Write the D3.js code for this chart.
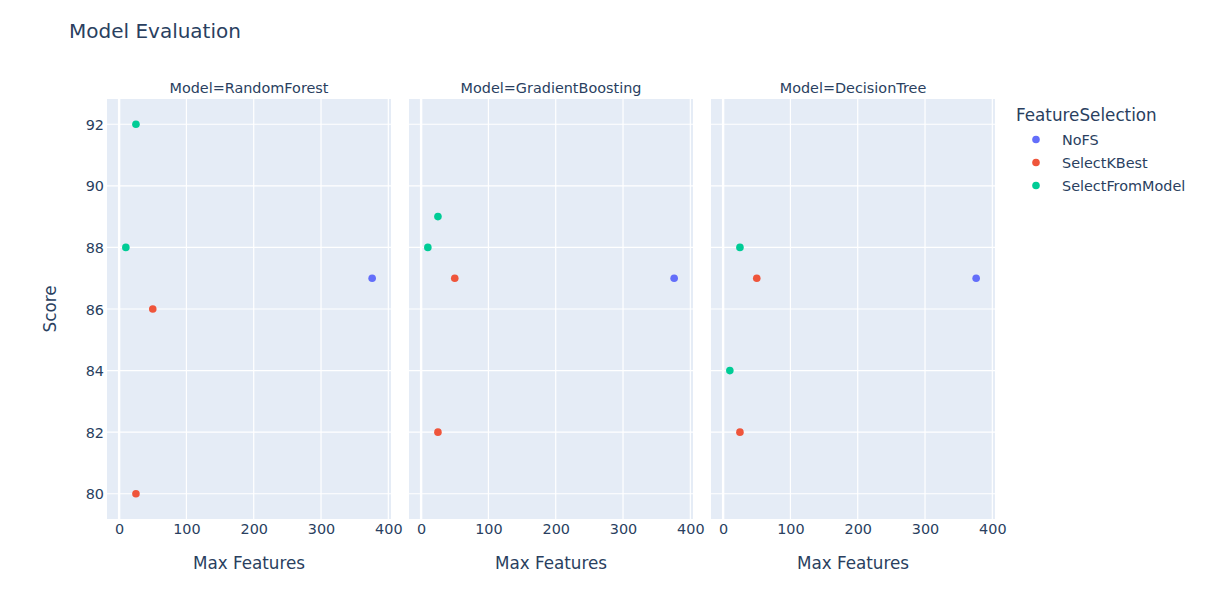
<!DOCTYPE html>
<html>
<head>
<meta charset="utf-8">
<script src="https://cdn.jsdelivr.net/npm/d3@7"></script>
<style>
  body { margin: 0; background: #fff; }
  text { font-family: "DejaVu Sans", Verdana, sans-serif; fill: #2a3f5f; }
</style>
</head>
<body>
<svg id="chart" width="1213" height="600"></svg>
<script>
// facet / legend categories
const models = ["RandomForest", "GradientBoosting", "DecisionTree"];
const methods = ["NoFS", "SelectKBest", "SelectFromModel"];
const colors = ["#636efa", "#EF553B", "#00cc96"];

// one entry per point
const pointModel = ["RandomForest", "RandomForest", "RandomForest", "RandomForest", "RandomForest",
  "GradientBoosting", "GradientBoosting", "GradientBoosting", "GradientBoosting", "GradientBoosting",
  "DecisionTree", "DecisionTree", "DecisionTree", "DecisionTree", "DecisionTree"];
const pointMethod = ["NoFS", "SelectKBest", "SelectKBest", "SelectFromModel", "SelectFromModel",
  "NoFS", "SelectKBest", "SelectKBest", "SelectFromModel", "SelectFromModel",
  "NoFS", "SelectKBest", "SelectKBest", "SelectFromModel", "SelectFromModel"];
const maxFeatures = [376, 50, 25, 25, 10, 376, 50, 25, 25, 10, 376, 50, 25, 25, 10];
const scores = [87, 86, 80, 92, 88, 87, 87, 82, 89, 88, 87, 87, 82, 88, 84];

const xTicks = [0, 100, 200, 300, 400];
const yTicks = [80, 82, 84, 86, 88, 90, 92];

const svg = d3.select("#chart");
const plot = {left: 107, right: 995, top: 99, bottom: 519, gap: 18};
const panelW = (plot.right - plot.left - 2 * plot.gap) / 3;

const y = d3.scaleLinear().domain([79.18, 92.82]).range([plot.bottom, plot.top]);
const color = d3.scaleOrdinal().domain(methods).range(colors);

const points = maxFeatures.map((v, i) => ({model: pointModel[i], method: pointMethod[i], x: v, y: scores[i]}));

svg.append("text")
    .attr("x", 69).attr("y", 38)
    .style("font-size", "20px")
    .text("Model Evaluation");

models.forEach((m, k) => {
  const x0 = plot.left + k * (panelW + plot.gap);
  const x = d3.scaleLinear().domain([-18, 404]).range([x0, x0 + panelW]);
  const g = svg.append("g");

  g.append("rect")
      .attr("x", x0).attr("y", plot.top)
      .attr("width", panelW).attr("height", plot.bottom - plot.top)
      .attr("fill", "#E5ECF6");

  // grid lines
  g.selectAll(".ygrid").data(yTicks).enter().append("line")
      .attr("x1", x0).attr("x2", x0 + panelW)
      .attr("y1", d => y(d)).attr("y2", d => y(d))
      .attr("stroke", "#fff").attr("stroke-width", 1.2);
  g.selectAll(".xgrid").data(xTicks).enter().append("line")
      .attr("x1", d => x(d)).attr("x2", d => x(d))
      .attr("y1", plot.top).attr("y2", plot.bottom)
      .attr("stroke", "#fff").attr("stroke-width", d => d === 0 ? 2.4 : 1.2);

  // x axis tick labels
  const xAxis = g.append("g")
      .attr("transform", `translate(0,${plot.bottom})`)
      .call(d3.axisBottom(x).tickValues(xTicks).tickSize(0).tickPadding(5));
  xAxis.select(".domain").remove();
  xAxis.selectAll("text").style("font-size", "14.4px").attr("fill", "#2a3f5f").attr("font-family", null);

  if (k === 0) {
    const yAxis = g.append("g")
        .attr("transform", `translate(${x0},0)`)
        .call(d3.axisLeft(y).tickValues(yTicks).tickSize(0).tickPadding(3));
    yAxis.select(".domain").remove();
    yAxis.selectAll("text").style("font-size", "14.4px").attr("fill", "#2a3f5f").attr("font-family", null)
        .attr("dy", "0.35em");
  }

  g.append("text")
      .attr("x", x0 + panelW / 2).attr("y", 93)
      .attr("text-anchor", "middle")
      .style("font-size", "14.4px")
      .text("Model=" + m);

  g.append("text")
      .attr("x", x0 + panelW / 2).attr("y", 569)
      .attr("text-anchor", "middle")
      .style("font-size", "16.8px")
      .text("Max Features");

  g.selectAll(".pt")
      .data(points.filter(p => p.model === m)
        .sort((a, b) => methods.indexOf(a.method) - methods.indexOf(b.method)))
      .enter().append("circle")
      .attr("cx", d => x(d.x))
      .attr("cy", d => y(d.y))
      .attr("r", 3.8)
      .attr("fill", d => color(d.method));
});

svg.append("text")
    .attr("transform", `translate(56,${(plot.top + plot.bottom) / 2}) rotate(-90)`)
    .attr("text-anchor", "middle")
    .style("font-size", "16.8px")
    .text("Score");

// legend
const legend = svg.append("g");
legend.append("text")
    .attr("x", 1016).attr("y", 121)
    .style("font-size", "16.8px")
    .text("FeatureSelection");
const items = legend.selectAll(".item").data(methods).enter().append("g")
    .attr("transform", (d, i) => `translate(0,${139.5 + i * 23})`);
items.append("circle")
    .attr("cx", 1036).attr("cy", 0).attr("r", 3.8)
    .attr("fill", d => color(d));
items.append("text")
    .attr("x", 1062).attr("y", 5)
    .style("font-size", "14.4px")
    .text(d => d);
</script>
</body>
</html>
